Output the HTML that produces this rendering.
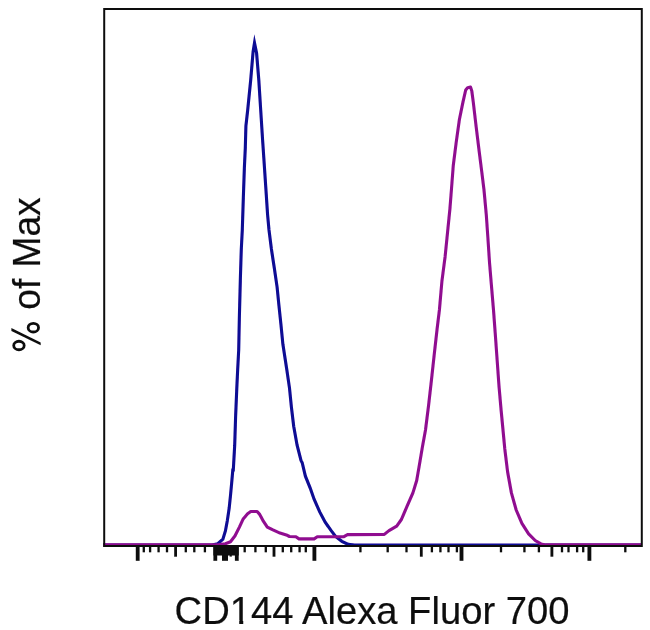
<!DOCTYPE html>
<html>
<head>
<meta charset="utf-8">
<title>CD144 Alexa Fluor 700</title>
<style>
html,body{margin:0;padding:0;background:#fff;}
body{width:650px;height:630px;overflow:hidden;position:relative;font-family:"Liberation Sans",sans-serif;}
svg{position:absolute;left:0;top:0;display:block;}
text{font-family:"Liberation Sans",sans-serif;fill:#111;}
</style>
</head>
<body>
<svg width="650" height="630" viewBox="0 0 650 630">
<defs><filter id="soft" x="-5%" y="-5%" width="110%" height="110%"><feGaussianBlur stdDeviation="0.4"/></filter></defs>
<rect x="0" y="0" width="650" height="630" fill="#ffffff"/>
<g filter="url(#soft)">
<!-- histograms -->
<path d="M103.0,545.0 L212.0,545.0 L217.8,543.7 L222.9,539.2 L225.4,531.0 L227.3,520.8 L229.2,508.1 L230.5,495.4 L231.7,482.7 L232.8,470.0 L233.3,470.0 L234.7,445.2 L235.6,416.7 L236.8,388.1 L237.7,369.0 L238.7,350.0 L239.4,315.7 L240.4,277.6 L241.3,249.0 L242.3,230.0 L243.4,195.7 L244.4,167.1 L245.3,148.1 L245.9,126.0 L247.7,110.0 L250.7,80.0 L253.1,51.7 L254.5,43.0 L256.6,53.3 L258.8,80.0 L260.7,110.0 L262.6,140.0 L263.8,157.6 L265.7,186.2 L267.6,214.8 L269.0,230.0 L271.4,249.0 L274.3,268.1 L277.1,287.1 L279.0,306.2 L281.0,325.2 L282.9,344.3 L286.7,369.0 L289.5,388.1 L291.4,407.1 L293.7,426.2 L297.1,445.2 L301.0,460.5 L302.2,462.7 L305.4,476.2 L310.2,488.1 L314.1,499.2 L319.7,511.9 L325.2,522.2 L330.8,530.2 L335.6,536.5 L341.9,541.3 L348.3,544.4 L354.6,545.0 L642.0,545.0" fill="none" stroke="#0e0894" stroke-width="3.1" stroke-linejoin="miter" stroke-miterlimit="20"/>
<path d="M103.0,544.9 L218.0,544.9 L225.4,543.7 L230.5,541.7 L234.9,536.0 L239.4,527.1 L243.2,518.9 L247.6,513.8 L250.8,511.5 L257.1,511.5 L259.7,514.4 L263.5,521.4 L267.3,527.1 L272.4,529.7 L280.0,533.1 L286.3,534.9 L289.5,536.5 L295.9,536.8 L299.0,538.9 L314.1,538.9 L317.3,536.8 L343.5,536.8 L347.5,534.6 L384.3,534.4 L389.0,530.6 L396.7,526.2 L401.4,519.5 L407.1,506.2 L412.9,492.9 L416.7,480.5 L419.5,464.3 L422.4,447.1 L425.5,430.0 L428.6,405.2 L431.4,380.5 L434.3,353.8 L437.1,329.0 L439.4,310.0 L441.9,281.4 L445.1,256.7 L447.6,231.9 L449.9,209.0 L451.4,190.0 L453.3,165.2 L456.2,142.4 L459.4,119.5 L462.9,102.4 L465.7,90.0 L467.6,87.7 L470.5,87.1 L471.8,91.0 L473.3,102.4 L476.2,127.1 L479.0,150.0 L481.9,172.9 L484.0,190.0 L486.3,214.8 L488.0,239.5 L489.5,262.4 L491.4,285.2 L493.5,310.0 L495.2,332.9 L497.1,359.5 L499.0,386.2 L501.0,409.0 L503.0,430.0 L504.8,449.0 L507.6,471.9 L511.4,492.9 L516.2,510.0 L521.9,523.3 L528.6,533.8 L535.2,540.5 L541.0,543.9 L546.0,544.9 L642.0,544.9" fill="none" stroke="#900c90" stroke-width="3.1" stroke-linejoin="round"/>
<!-- plot frame -->
<rect x="104.2" y="9" width="537.6" height="537" fill="none" stroke="#0c0c0c" stroke-width="2"/>
<!-- axis ticks -->
<g fill="#0c0c0c">
<rect x="135.80" y="546" width="3.8" height="14.8"/>
<rect x="213.40" y="546" width="3.8" height="14.8"/>
<rect x="222.00" y="546" width="6.0" height="14.8"/>
<rect x="234.90" y="546" width="3.8" height="14.8"/>
<rect x="312.50" y="546" width="3.8" height="14.8"/>
<rect x="459.60" y="546" width="3.8" height="14.8"/>
<rect x="587.50" y="546" width="3.8" height="14.8"/>
<rect x="174.20" y="546" width="2.8" height="10.7"/>
<rect x="272.60" y="546" width="2.8" height="10.7"/>
<rect x="419.90" y="546" width="2.8" height="10.7"/>
<rect x="550.50" y="546" width="2.8" height="10.7"/>
<rect x="142.65" y="546" width="2.3" height="6.3"/>
<rect x="148.95" y="546" width="2.3" height="6.3"/>
<rect x="157.45" y="546" width="2.3" height="6.3"/>
<rect x="165.85" y="546" width="2.3" height="6.3"/>
<rect x="184.65" y="546" width="2.3" height="6.3"/>
<rect x="193.15" y="546" width="2.3" height="6.3"/>
<rect x="203.75" y="546" width="2.3" height="6.3"/>
<rect x="243.55" y="546" width="2.3" height="6.3"/>
<rect x="254.25" y="546" width="2.3" height="6.3"/>
<rect x="264.65" y="546" width="2.3" height="6.3"/>
<rect x="281.65" y="546" width="2.3" height="6.3"/>
<rect x="290.05" y="546" width="2.3" height="6.3"/>
<rect x="298.45" y="546" width="2.3" height="6.3"/>
<rect x="304.65" y="546" width="2.3" height="6.3"/>
<rect x="359.25" y="546" width="2.3" height="6.3"/>
<rect x="386.55" y="546" width="2.3" height="6.3"/>
<rect x="405.35" y="546" width="2.3" height="6.3"/>
<rect x="430.75" y="546" width="2.3" height="6.3"/>
<rect x="439.25" y="546" width="2.3" height="6.3"/>
<rect x="447.35" y="546" width="2.3" height="6.3"/>
<rect x="455.75" y="546" width="2.3" height="6.3"/>
<rect x="499.85" y="546" width="2.3" height="6.3"/>
<rect x="523.25" y="546" width="2.3" height="6.3"/>
<rect x="537.75" y="546" width="2.3" height="6.3"/>
<rect x="560.85" y="546" width="2.3" height="6.3"/>
<rect x="567.35" y="546" width="2.3" height="6.3"/>
<rect x="575.95" y="546" width="2.3" height="6.3"/>
<rect x="582.05" y="546" width="2.3" height="6.3"/>
<rect x="624.15" y="546" width="2.3" height="6.3"/>
<rect x="229.6" y="546" width="2.2" height="10.6"/>
<rect x="213.4" y="546" width="25.3" height="9.5"/>
</g>
<!-- labels -->
<text x="174.6" y="623.7" font-size="38.2" stroke="#111" stroke-width="0.2">CD144 Alexa Fluor 700</text>
<rect x="230" y="619.9" width="9.2" height="5.5" fill="#fff"/>
<rect x="243.25" y="619.9" width="7" height="5.5" fill="#fff"/>
<g transform="translate(40,309.7) rotate(-90) scale(0.971,0.995)"><text x="0" y="0" font-size="38.2" stroke="#111" stroke-width="0.2">of</text></g>
<g transform="translate(40,267.5) rotate(-90) scale(0.971,0.995)"><text x="0" y="0" font-size="38.2" stroke="#111" stroke-width="0.2">Max</text></g>
<!-- percent sign (Helvetica-like) -->
<ellipse cx="33.35" cy="327.7" rx="5.2" ry="4.3" fill="none" stroke="#111" stroke-width="2.8"/>
<ellipse cx="18.95" cy="345.5" rx="5.25" ry="4.25" fill="none" stroke="#111" stroke-width="2.8"/>
<polygon points="11.4,328.1 40.7,342.4 40.7,345.2 11.4,330.9" fill="#111"/>
</g>
</svg>
</body>
</html>
